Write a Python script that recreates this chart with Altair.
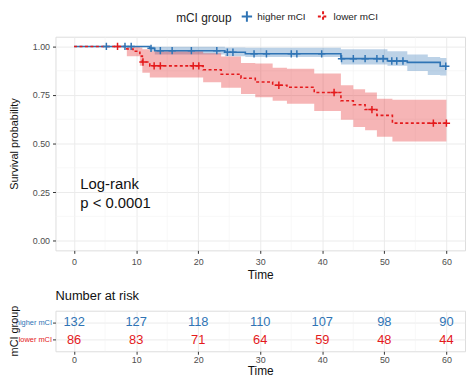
import altair as alt
import pandas as pd

groups = ["higher mCI", "lower mCI"]
colors = ["#2F74B5", "#E41A1C"]

# higher mCI step curve (change points)
hi_time = [0, 12.2, 13, 24.3, 27.6, 43, 50.5, 53.7, 57, 59, 60]
hi_surv = [1.0, 0.99, 0.978, 0.970, 0.962, 0.937, 0.925, 0.918, 0.918, 0.898, 0.898]
hi_low = [1.0, 0.975, 0.958, 0.95, 0.945, 0.907, 0.90, 0.874, 0.853, 0.85, 0.85]
hi_up = [1.0, 1.0, 0.998, 0.995, 0.993, 0.985, 0.975, 0.958, 0.945, 0.94, 0.94]
hi_cens = [5.2, 8.2, 9.2, 12.4, 13.9, 15.8, 18.9, 23, 24.7, 25.6, 29, 31, 35, 35.9,
           39.9, 43.1, 45, 46.9, 48.8, 49.8, 51.2, 52, 53, 59.9]

# lower mCI step curve (change points)
lo_time = [0, 8.5, 9.5, 10.6, 11, 12.2, 20.8, 23.7, 26.9, 29.2, 32, 34.3, 38.7, 43, 45, 46.9, 48.8, 51.3, 60]
lo_surv = [1.0, 0.987, 0.975, 0.95, 0.92, 0.90, 0.88, 0.857, 0.836, 0.817, 0.80, 0.79, 0.763, 0.72, 0.70, 0.675, 0.645, 0.605, 0.605]
lo_low = [1.0, 0.95, 0.95, 0.90, 0.865, 0.84, 0.815, 0.787, 0.755, 0.738, 0.72, 0.705, 0.668, 0.623, 0.585, 0.568, 0.535, 0.51, 0.51]
lo_up = [1.0, 1.0, 1.0, 0.995, 0.985, 0.975, 0.965, 0.948, 0.915, 0.912, 0.89, 0.885, 0.86, 0.80, 0.78, 0.763, 0.73, 0.725, 0.725]
lo_cens = [7, 11.1, 12.9, 13.9, 19.2, 20.1, 33, 41.9, 48, 57.9, 60]

risk_times = [0, 10, 20, 30, 40, 50, 60]
hi_risk = [132, 127, 118, 110, 107, 98, 90]
lo_risk = [86, 83, 71, 64, 59, 48, 44]

x_major = [0, 10, 20, 30, 40, 50, 60]
x_minor = [5, 15, 25, 35, 45, 55]
y_major = [0, 0.25, 0.5, 0.75, 1.0]
y_minor = [0.125, 0.375, 0.625, 0.875]

FONT = "Liberation Sans"
W = 414


def surv_at(times, surv, t):
    v = surv[0]
    for tt, s in zip(times, surv):
        if tt <= t:
            v = s
    return v


curve_rows = []
for g, T, S, L, U in [(groups[0], hi_time, hi_surv, hi_low, hi_up),
                      (groups[1], lo_time, lo_surv, lo_low, lo_up)]:
    for t, s, l, u in zip(T, S, L, U):
        curve_rows.append({"group": g, "time": t, "surv": s, "low": l, "up": u})
curves = pd.DataFrame(curve_rows)

cens_rows = []
for g, T, S, C in [(groups[0], hi_time, hi_surv, hi_cens), (groups[1], lo_time, lo_surv, lo_cens)]:
    for c in C:
        cens_rows.append({"group": g, "time": c, "surv": surv_at(T, S, c)})
cens = pd.DataFrame(cens_rows)

risk = pd.DataFrame(
    [{"group": groups[0], "time": t, "n": n} for t, n in zip(risk_times, hi_risk)]
    + [{"group": groups[1], "time": t, "n": n} for t, n in zip(risk_times, lo_risk)]
)

xscale = alt.Scale(domain=[-3, 63], nice=False, zero=False)
yscale = alt.Scale(domain=[-0.05, 1.05], nice=False)
cscale = alt.Scale(domain=groups, range=colors)

grid_col = "#EBEBEB"
plus = "M-1,0L1,0M0,-1L0,1"

legend = alt.Legend(title="mCI group", orient="none", legendX=122, legendY=-27,
                    direction="horizontal", titleOrient="left", titleFont=FONT,
                    titleFontSize=12, titleFontWeight="normal", titleColor="#222222",
                    labelFont=FONT, labelFontSize=10, labelColor="#222222",
                    symbolType=plus, symbolSize=110, symbolStrokeWidth=2, symbolOpacity=1,
                    columnPadding=8, titlePadding=8)
color_enc = alt.Color("group:N", scale=cscale, legend=legend)


def make_x_axis(label_pad, title_pad):
    return alt.Axis(values=x_major, grid=True, gridColor=grid_col, gridWidth=1, domain=False,
                    tickColor="#333333", tickSize=3, labelColor="#4D4D4D", labelFontSize=9,
                    labelFont=FONT, title="Time", titleFont=FONT, titleFontSize=12,
                    titleFontWeight="normal", titleColor="#111111", titlePadding=title_pad,
                    labelPadding=label_pad)


minor_x = pd.DataFrame({"v": x_minor})
minor_y = pd.DataFrame({"v": y_minor})

gx = alt.Chart(minor_x).mark_rule(color="#F3F3F3", strokeWidth=0.6).encode(x=alt.X("v:Q", scale=xscale))
gy = alt.Chart(minor_y).mark_rule(color="#F3F3F3", strokeWidth=0.6).encode(y=alt.Y("v:Q", scale=yscale))

base = alt.Chart(curves)
band = base.mark_area(interpolate="step-after", fillOpacity=0.32).encode(
    x=alt.X("time:Q", scale=xscale, axis=make_x_axis(4, 3)),
    y=alt.Y("low:Q", scale=yscale,
            axis=alt.Axis(values=y_major, format=".2f", grid=True, gridColor=grid_col, gridWidth=1,
                          domain=False, tickColor="#333333", tickSize=3, labelColor="#4D4D4D",
                          labelFontSize=9, labelFont=FONT, title="Survival probability",
                          titleFont=FONT, titleFontSize=11, titleFontWeight="normal",
                          titleColor="#111111", titleX=-36, titleY=108, labelPadding=3)),
    y2="up:Q",
    color=color_enc,
)
line = base.mark_line(interpolate="step-after", strokeWidth=1.6).encode(
    x=alt.X("time:Q", scale=xscale),
    y=alt.Y("surv:Q", scale=yscale),
    color=color_enc,
    strokeDash=alt.StrokeDash("group:N", scale=alt.Scale(domain=groups, range=[[1, 0], [3, 2.5]]), legend=None),
)
pts = alt.Chart(cens).mark_point(shape=plus, filled=False, size=55, strokeWidth=1.5, opacity=1).encode(
    x=alt.X("time:Q", scale=xscale),
    y=alt.Y("surv:Q", scale=yscale),
    color=color_enc,
)

logrank = pd.DataFrame({"time": [1.0, 1.0], "surv": [0.29, 0.193], "txt": ["Log-rank", "p < 0.0001"]})
lr = alt.Chart(logrank).mark_text(align="left", baseline="middle", fontSize=15, font=FONT, color="#111111").encode(
    x=alt.X("time:Q", scale=xscale), y=alt.Y("surv:Q", scale=yscale), text="txt:N")

main = alt.layer(gx, gy, band, line, pts, lr).properties(width=W, height=216)

# risk table
rgx = alt.Chart(minor_x).mark_rule(color="#F3F3F3", strokeWidth=0.6).encode(x=alt.X("v:Q", scale=xscale))
rtext = alt.Chart(risk).mark_text(fontSize=13, font=FONT).encode(
    x=alt.X("time:Q", scale=xscale, axis=make_x_axis(1, 1)),
    y=alt.Y("group:N", sort=groups, scale=alt.Scale(domain=groups, padding=0.65),
            axis=alt.Axis(grid=True, gridColor=grid_col, domain=False, tickColor="#333333", tickSize=3,
                          labelFont=FONT, labelFontSize=7.5,
                          labelColor={"condition": {"test": "datum.value == 'higher mCI'", "value": colors[0]},
                                      "value": colors[1]},
                          title="mCI group", titleFont=FONT, titleFontSize=11, titleFontWeight="normal",
                          titleColor="#111111", titleX=-36, titleY=20, labelPadding=1)),
    text="n:Q",
    color=color_enc,
)
risk_chart = alt.layer(rgx, rtext).properties(
    width=W, height=41,
    title=alt.TitleParams("Number at risk", anchor="start", frame="group", font=FONT, fontSize=13,
                          fontWeight="normal", color="#111111", offset=2),
)

chart = alt.vconcat(main, risk_chart, spacing=8).properties(
    padding={"left": 0, "top": 0, "right": 0, "bottom": 0}
).configure_view(stroke="#555555", strokeWidth=1).configure(font=FONT)

chart.save("out.html", embed_options={"renderer": "svg", "actions": False})
